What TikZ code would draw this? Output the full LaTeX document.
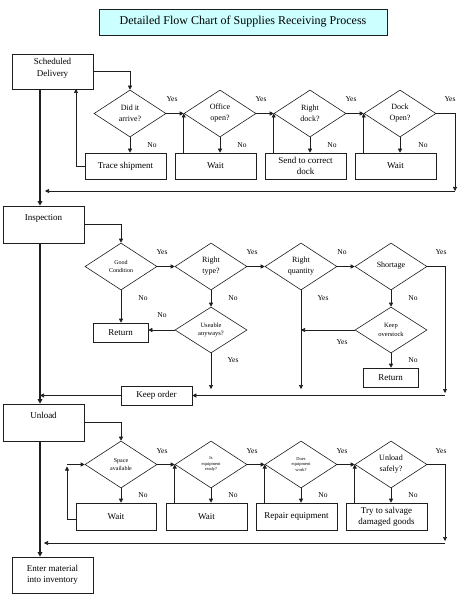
\documentclass[tikz,border=0pt]{standalone}
\usepackage{fontspec}
\setmainfont{Liberation Serif}
\usetikzlibrary{shapes.geometric,arrows.meta}
\definecolor{titlecyan}{RGB}{204,255,255}
\definecolor{ink}{RGB}{30,30,30}
\begin{document}
\begin{tikzpicture}[x=1pt,y=-1pt,
  box/.style={draw=ink, line width=0.6pt, inner sep=1pt, align=center, font=\fontsize{9}{11}\selectfont},
  dia/.style={draw=ink, diamond, aspect=1.5, inner sep=0pt, minimum width=72pt, minimum height=47pt, align=center, line width=0.6pt, font=\fontsize{8}{11}\selectfont},
  lab/.style={inner sep=0pt, font=\fontsize{7.5}{9}\selectfont},
  arr/.style={draw=ink, line width=0.6pt, -{Triangle[length=4pt,width=4pt]}},
  ln/.style={draw=ink, line width=0.6pt},
  trunk/.style={draw=ink, line width=1.2pt, -{Triangle[length=4.5pt,width=4.5pt]}},
  txt/.style={inner sep=0pt, align=center, font=\fontsize{9}{12}\selectfont}
]
\useasboundingbox (0,0) rectangle (474,612);
\fill[white] (0,0) rectangle (474,612);
\coordinate (tx) at (40,0);

% title
\node[draw=ink, fill=titlecyan, line width=0.8pt, minimum width=288pt, minimum height=26pt, inner sep=0pt, font=\fontsize{12}{14}\selectfont] (title) at (243,22) {Detailed Flow Chart of Supplies Receiving Process};

% main boxes
\node[box, minimum width=81pt, minimum height=35pt] (sched) at (52.5,71.5) {};
\node[txt] (schedtxt) at (52.5,68) {Scheduled\\Delivery};
\node[box, minimum width=81pt, minimum height=37pt] (insp) at (43.5,224.5) {};
\node[txt] (insptxt) at (43.5,218) {Inspection};
\node[box, minimum width=81pt, minimum height=37pt] (unl) at (43.5,422.5) {};
\node[txt] (unltxt) at (43.5,415) {Unload};
\node[box, minimum width=81pt, minimum height=36pt] (enter) at (52.5,575) {Enter material\\into inventory};

% row 1
\node[dia] (d1) at (130,113.5) {Did it\\arrive?};
\node[dia] (d2) at (220,113.5) {Office\\open?};
\node[dia] (d3) at (310,113.5) {Right\\dock?};
\node[dia] (d4) at (400,113.5) {Dock\\Open?};
\node[box, minimum width=81pt, minimum height=26pt] (b1) at (125.5,166) {Trace shipment};
\node[box, minimum width=81pt, minimum height=26pt] (b2) at (215.5,166) {Wait};
\node[box, minimum width=81pt, minimum height=26pt] (b3) at (305.5,166) {Send to correct\\dock};
\node[box, minimum width=81pt, minimum height=26pt] (b4) at (395.5,166) {Wait};

\draw[arr] (sched.east) -| (d1.north);
\draw[arr] (d1.east) -- (d2.west);
\draw[arr] (d2.east) -- (d3.west);
\draw[arr] (d3.east) -- (d4.west);
\draw[arr] (d1.south) -- (d1.south |- b1.north);
\draw[arr] (d2.south) -- (d2.south |- b2.north);
\draw[arr] (d3.south) -- (d3.south |- b3.north);
\draw[arr] (d4.south) -- (d4.south |- b4.north);
\coordinate (c1) at (76,89);
\draw[arr] (b1.west) -| (c1);
\draw[arr] (d2.west |- b2.north) -- (d2.west);
\draw[arr] (d3.west |- b3.north) -- (d3.west);
\draw[arr] (d4.west |- b4.north) -- (d4.west);
\coordinate (r1) at (455,191);
\coordinate (l1) at (45,191);
\draw[arr] (d4.east) -| (r1);
\draw[arr] (r1) -- (l1);

\node[lab] (y1) at (172,99) {Yes};
\node[lab] (y2) at (261,99) {Yes};
\node[lab] (y3) at (351,99) {Yes};
\node[lab] (y4) at (450,99) {Yes};
\node[lab] (n1) at (152,145) {No};
\node[lab] (n2) at (242,145) {No};
\node[lab] (n3) at (332,145) {No};
\node[lab] (n4) at (423,145) {No};

% trunk
\draw[trunk] (sched.south -| tx) -- (insp.north -| tx);
\draw[trunk] (insp.south -| tx) -- (unl.north -| tx);
\draw[trunk] (unl.south -| tx) -- (enter.north -| tx);

% row 2
\node[dia, font=\fontsize{6}{8}\selectfont] (d5) at (121,266.5) {Good\\Condition};
\node[dia] (d6) at (211,266.5) {Right\\type?};
\node[dia] (d7) at (301,266.5) {Right\\quantity};
\node[dia] (d8) at (391,266.5) {\raisebox{3pt}{Shortage}};
\node[dia, minimum height=46pt, font=\fontsize{6.5}{8.5}\selectfont] (d9) at (211,330) {Useable\\anyways?};
\node[dia, minimum height=46pt, font=\fontsize{6.5}{8.5}\selectfont] (d10) at (391,330) {Keep\\overstock};
\node[box, minimum width=55pt, minimum height=19pt] (ret1) at (120.5,332.5) {Return};
\node[box, minimum width=55pt, minimum height=19pt] (ret2) at (390.5,377.5) {Return};
\node[box, minimum width=71pt, minimum height=19pt] (keep) at (156.5,395.5) {Keep order};

\draw[arr] (insp.east) -| (d5.north);
\draw[arr] (d5.east) -- (d6.west);
\draw[arr] (d6.east) -- (d7.west);
\draw[arr] (d7.east) -- (d8.west);
\draw[arr] (d5.south) -- (d5.south |- ret1.north);
\draw[arr] (d6.south) -- (d9.north);
\draw[arr] (d9.west) -- (d9.west -| ret1.east);
\coordinate (k1) at (211,389);
\coordinate (k2) at (301,389);
\draw[arr] (d9.south) -- (k1);
\draw[arr] (d7.south) -- (k2);
\draw[arr] (d8.south) -- (d10.north);
\draw[arr] (d10.west) -- (d10.west -| d7.south);
\draw[arr] (d10.south) -- (d10.south |- ret2.north);
\coordinate (r2) at (445,393);
\draw[arr] (d8.east) -| (r2);
\coordinate (r2b) at (445,395.5);
\draw[arr] (r2b) -- (keep.east);
\draw[arr] (keep.west) -- (keep.west -| tx);

\node[lab] (y5) at (162,252) {Yes};
\node[lab] (y6) at (252,252) {Yes};
\node[lab] (n7) at (342,252) {No};
\node[lab] (y8) at (441,252) {Yes};
\node[lab] (n5) at (143,298) {No};
\node[lab] (n6) at (233,298) {No};
\node[lab] (y7) at (323,298) {Yes};
\node[lab] (n8) at (413,298) {No};
\node[lab] (n9) at (162,315) {No};
\node[lab] (y9) at (233,360) {Yes};
\node[lab] (y10) at (342,342) {Yes};
\node[lab] (n10) at (413,360) {No};

% row 3
\node[dia, font=\fontsize{6}{8}\selectfont] (d11) at (121,464.5) {Space\\available};
\node[dia, font=\fontsize{4.5}{5.5}\selectfont] (d12) at (211,464.5) {Is\\equipment\\ready?};
\node[dia, font=\fontsize{4.5}{5.5}\selectfont] (d13) at (301,464.5) {Does\\equipment\\work?};
\node[dia] (d14) at (391,464.5) {Unload\\safely?};
\node[box, minimum width=80pt, minimum height=27pt] (w1) at (116,516.5) {Wait};
\node[box, minimum width=81pt, minimum height=27pt] (w2) at (206.5,516.5) {Wait};
\node[box, minimum width=81pt, minimum height=27pt] (w3) at (296.5,516.5) {Repair equipment};
\node[box, minimum width=81pt, minimum height=27pt] (w4) at (386.5,516.5) {Try to salvage\\damaged goods};

\draw[arr] (unl.east) -| (d11.north);
\draw[arr] (d11.east) -- (d12.west);
\draw[arr] (d12.east) -- (d13.west);
\draw[arr] (d13.east) -- (d14.west);
\draw[arr] (d11.south) -- (d11.south |- w1.north);
\draw[arr] (d12.south) -- (d12.south |- w2.north);
\draw[arr] (d13.south) -- (d13.south |- w3.north);
\draw[arr] (d14.south) -- (d14.south |- w4.north);
\coordinate (c3) at (67,464.5);
\coordinate (c3b) at (67,466.5);
\draw[arr] ([yshift=-3pt]w1.west) -| (c3b);
\draw[arr] (c3) -- (d11.west);
\draw[arr] (d12.west |- w2.north) -- (d12.west);
\draw[arr] (d13.west |- w3.north) -- (d13.west);
\draw[arr] (d14.west |- w4.north) -- (d14.west);
\coordinate (r3) at (445,541);
\coordinate (r3b) at (445,543);
\coordinate (l3) at (44,543);
\draw[arr] (d14.east) -| (r3);
\draw[arr] (r3b) -- (l3);

\node[lab] (y11) at (162,451) {Yes};
\node[lab] (y12) at (252,451) {Yes};
\node[lab] (y13) at (342,451) {Yes};
\node[lab] (y14) at (441,451) {Yes};
\node[lab] (n11) at (143,495) {No};
\node[lab] (n12) at (233,495) {No};
\node[lab] (n13) at (323,495) {No};
\node[lab] (n14) at (413,495) {No};
\end{tikzpicture}
\end{document}
